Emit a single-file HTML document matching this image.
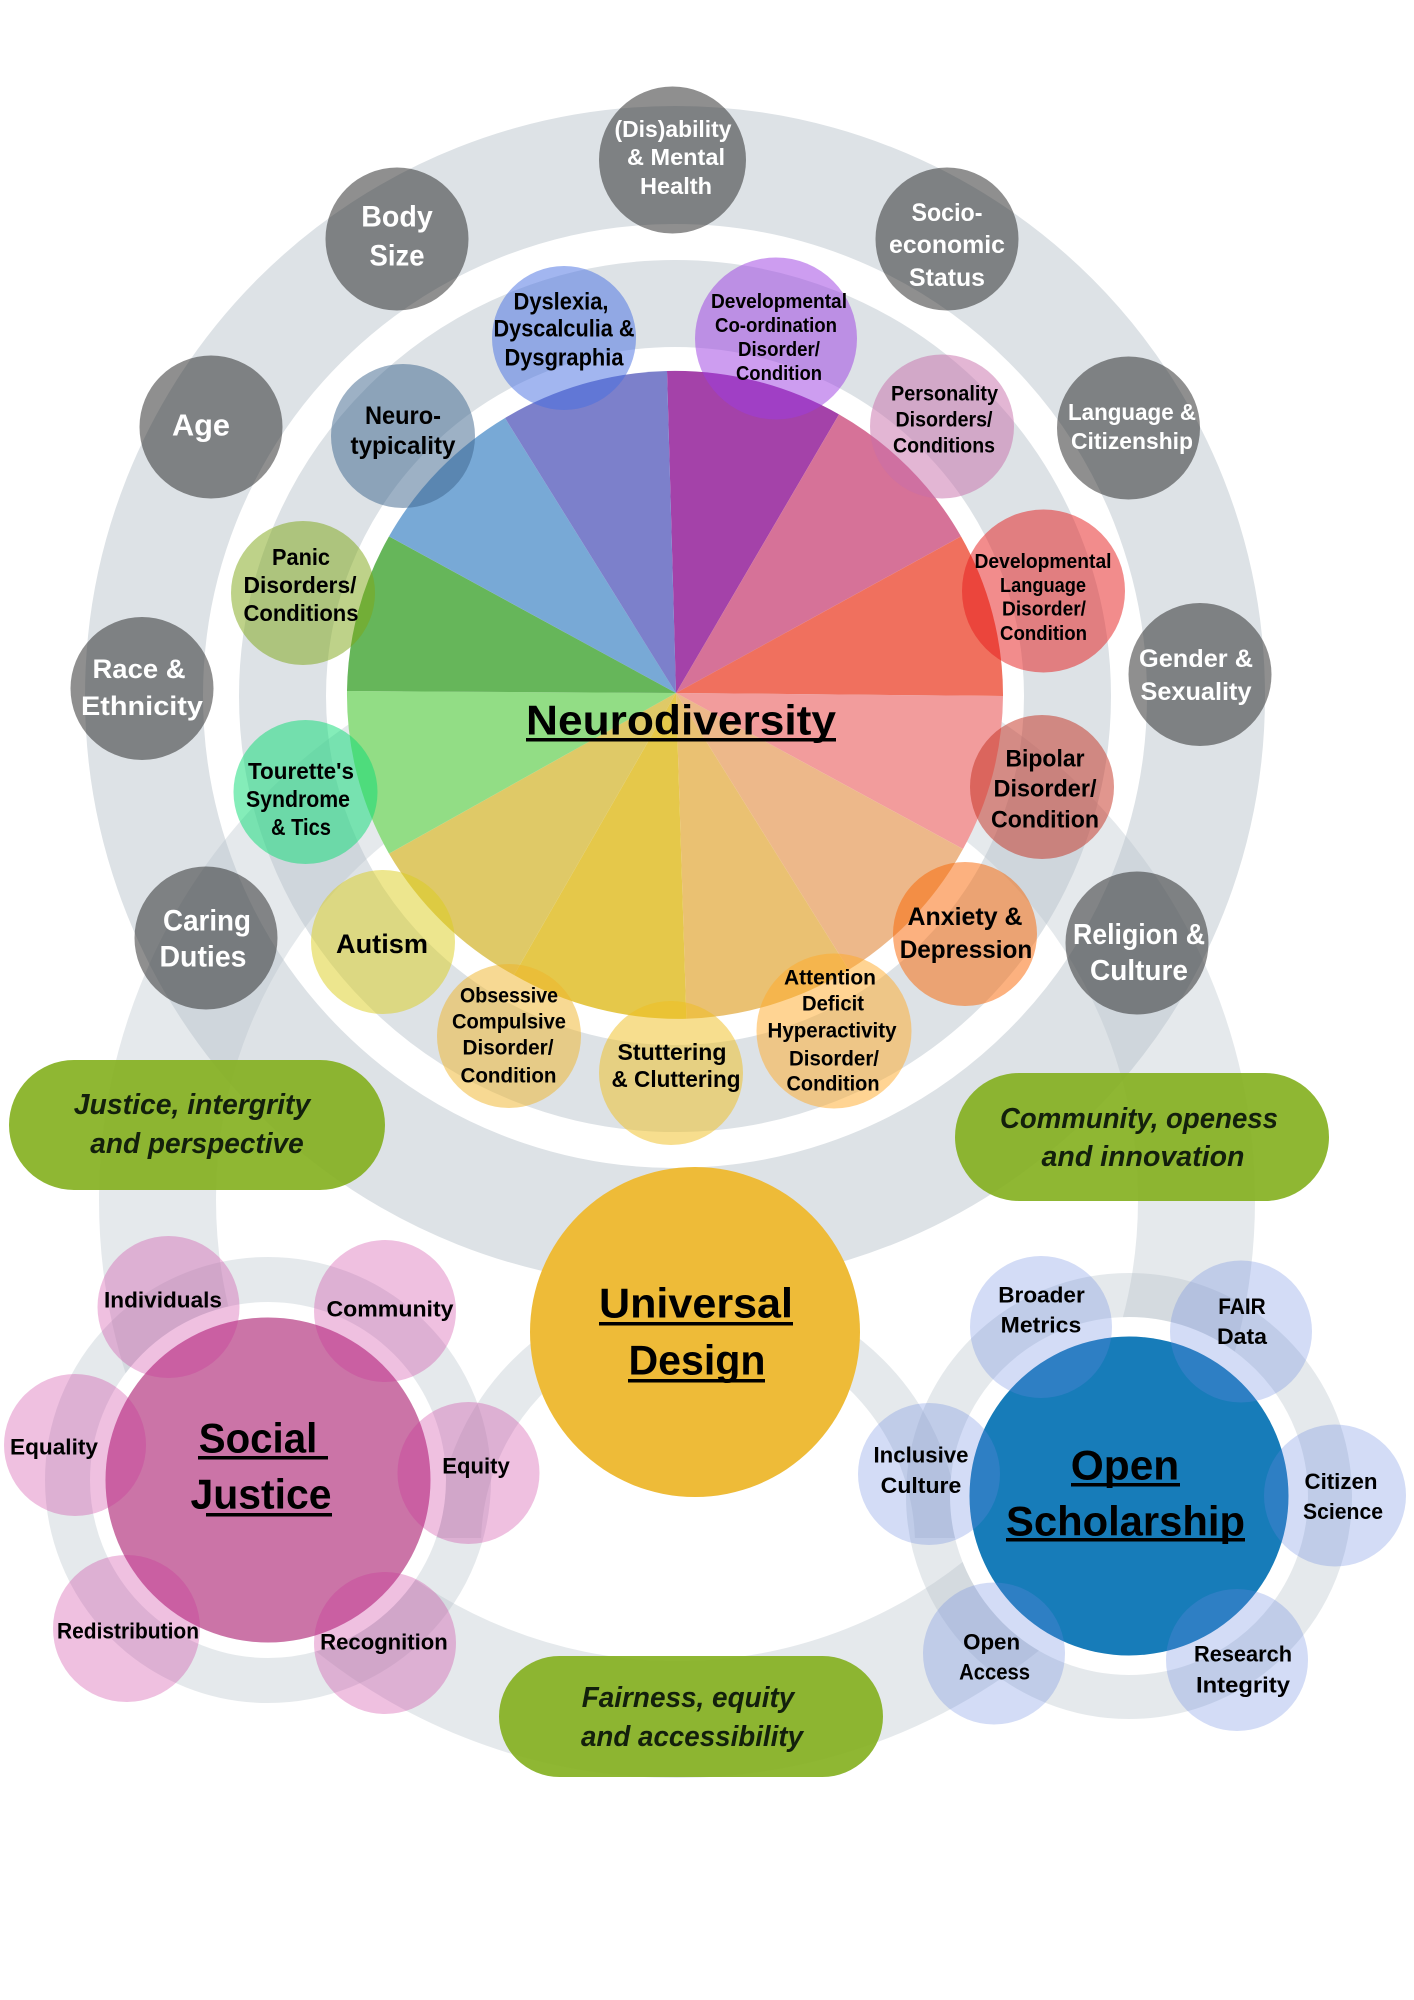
<!DOCTYPE html>
<html><head><meta charset="utf-8"><style>
html,body{margin:0;padding:0;background:#fff;width:1414px;height:2000px;overflow:hidden}
svg{display:block}
text{font-family:"Liberation Sans",sans-serif;font-weight:700;text-anchor:middle;dominant-baseline:central;fill:#000}
.w text{fill:#fff}
.p text{font-style:italic;fill:#13200c;font-size:29px}
</style></head><body>
<svg xmlns="http://www.w3.org/2000/svg" width="1414" height="2000" viewBox="0 0 1414 2000">
<defs><clipPath id="hc"><rect x="0" y="0" width="1414" height="1538"/></clipPath></defs>
<rect width="1414" height="2000" fill="#fff"/>
<!-- neuro rings -->
<circle cx="675" cy="696" r="531" fill="none" stroke="#dde2e6" stroke-width="118"/>
<circle cx="675" cy="696" r="392.5" fill="none" stroke="#dde2e6" stroke-width="87"/>
<!-- big connecting ring -->
<circle cx="677" cy="1200" r="519.5" fill="none" stroke="rgba(180,191,200,.35)" stroke-width="117"/>
<!-- UD half ring -->
<g clip-path="url(#hc)"><circle cx="698" cy="1545" r="239.5" fill="none" stroke="rgba(180,191,200,.35)" stroke-width="45"/></g>
<!-- SJ / OS rings -->
<circle cx="268" cy="1480" r="178" fill="#fff"/>
<circle cx="268" cy="1480" r="200.5" fill="none" stroke="rgba(180,191,200,.35)" stroke-width="45"/>
<circle cx="1129" cy="1496" r="179" fill="#fff"/>
<circle cx="1129" cy="1496" r="201" fill="none" stroke="rgba(180,191,200,.35)" stroke-width="44"/>
<!-- wheel -->
<g>
<path d="M676 693 L667 371 A328 324 0 0 1 839 414.4 Z" fill="#a442a9"/>
<path d="M676 693 L839 414.4 A328 324 0 0 1 961 536.4 Z" fill="#d67298"/>
<path d="M676 693 L961 536.4 A328 324 0 0 1 1003 696 Z" fill="#f0705e"/>
<path d="M676 693 L1003 696 A328 324 0 0 1 963 849 Z" fill="#f29c9c"/>
<path d="M676 693 L963 849 A328 324 0 0 1 848.8 969.8 Z" fill="#edb88a"/>
<path d="M676 693 L848.8 969.8 A328 324 0 0 1 686.4 1018.8 Z" fill="#eac172"/>
<path d="M676 693 L686.4 1018.8 A328 324 0 0 1 514 975 Z" fill="#e5c84a"/>
<path d="M676 693 L514 975 A328 324 0 0 1 389 853.6 Z" fill="#dfc967"/>
<path d="M676 693 L389 853.6 A328 324 0 0 1 347 691 Z" fill="#92dd85"/>
<path d="M676 693 L347 691 A328 324 0 0 1 389 536.4 Z" fill="#66b65a"/>
<path d="M676 693 L389 536.4 A328 324 0 0 1 505 418 Z" fill="#78a9d6"/>
<path d="M676 693 L505 418 A328 324 0 0 1 667 371 Z" fill="#7c80cb"/>
</g>
<!-- pills -->
<rect x="9" y="1060" width="376" height="130" rx="65" fill="rgba(131,175,29,.9)"/>
<rect x="955" y="1073" width="374" height="128" rx="64" fill="rgba(131,175,29,.9)"/>
<rect x="499" y="1656" width="384" height="121" rx="60.5" fill="rgba(131,175,29,.9)"/>
<!-- centres -->
<circle cx="695" cy="1332" r="165" fill="#eebb38"/>
<circle cx="268" cy="1480" r="162.5" fill="#cb74a7"/>
<circle cx="1129" cy="1496" r="159.5" fill="#177cb9"/>
<!-- grey bubbles -->
<g fill="rgba(31,31,31,.5)">
<circle cx="672.5" cy="160" r="73.5"/><circle cx="397" cy="239" r="71.5"/><circle cx="947" cy="239" r="71.5"/>
<circle cx="211" cy="427" r="71.5"/><circle cx="1128.5" cy="428" r="71.5"/><circle cx="142" cy="688.5" r="71.5"/>
<circle cx="1200" cy="674.5" r="71.5"/><circle cx="206" cy="938" r="71.5"/><circle cx="1137" cy="943" r="71.5"/>
</g>
<!-- neuro bubbles -->
<circle cx="403" cy="436" r="72" fill="rgba(60,100,140,.5)"/>
<circle cx="564" cy="338" r="72" fill="rgba(70,110,225,.5)"/>
<circle cx="776" cy="338.5" r="81" fill="rgba(155,60,225,.5)"/>
<circle cx="942" cy="426.5" r="72" fill="rgba(200,110,170,.5)"/>
<circle cx="1043.5" cy="591" r="81.5" fill="rgba(230,25,25,.5)"/>
<circle cx="1042" cy="787" r="72" fill="rgba(195,45,30,.5)"/>
<circle cx="965" cy="934" r="72" fill="rgba(250,100,0,.5)"/>
<circle cx="834" cy="1031" r="77.5" fill="rgba(255,170,40,.5)"/>
<circle cx="671" cy="1073" r="72" fill="rgba(240,190,30,.5)"/>
<circle cx="509" cy="1036" r="72" fill="rgba(240,180,40,.5)"/>
<circle cx="383" cy="942" r="72" fill="rgba(220,205,30,.5)"/>
<circle cx="305.5" cy="792" r="72" fill="rgba(10,220,115,.5)"/>
<circle cx="303" cy="593" r="72" fill="rgba(125,165,20,.5)"/>
<!-- SJ bubbles -->
<g fill="rgba(201,45,152,.3)">
<circle cx="168.5" cy="1307" r="71"/><circle cx="385" cy="1311" r="71"/><circle cx="75" cy="1445" r="71"/>
<circle cx="468.5" cy="1473" r="71"/><circle cx="126.5" cy="1628.5" r="73.5"/><circle cx="385" cy="1643" r="71"/>
</g>
<!-- OS bubbles -->
<g fill="rgba(103,134,224,.29)">
<circle cx="1041" cy="1327" r="71"/><circle cx="1241" cy="1331.5" r="71"/><circle cx="1335" cy="1495.5" r="71"/>
<circle cx="1237" cy="1660" r="71"/><circle cx="994" cy="1653.5" r="71"/><circle cx="929" cy="1474" r="71"/>
</g>
<!-- grey text -->
<g class="w" style="font-size:23px">
<text x="673" y="129" textLength="117" lengthAdjust="spacingAndGlyphs">(Dis)ability</text>
<text x="676" y="157" textLength="98" lengthAdjust="spacingAndGlyphs">&amp; Mental</text>
<text x="676" y="186" textLength="72" lengthAdjust="spacingAndGlyphs">Health</text>
<text x="397" y="217" font-size="30" textLength="71.5" lengthAdjust="spacingAndGlyphs">Body</text>
<text x="397" y="256" font-size="30" textLength="55" lengthAdjust="spacingAndGlyphs">Size</text>
<text x="947" y="213" font-size="25" textLength="71" lengthAdjust="spacingAndGlyphs">Socio-</text>
<text x="947" y="245" font-size="25" textLength="116" lengthAdjust="spacingAndGlyphs">economic</text>
<text x="947" y="278" font-size="25" textLength="76" lengthAdjust="spacingAndGlyphs">Status</text>
<text x="201" y="425" font-size="31" textLength="58" lengthAdjust="spacingAndGlyphs">Age</text>
<text x="1132" y="412" textLength="128" lengthAdjust="spacingAndGlyphs">Language &amp;</text>
<text x="1132" y="441" textLength="122" lengthAdjust="spacingAndGlyphs">Citizenship</text>
<text x="139" y="669" font-size="27" textLength="93" lengthAdjust="spacingAndGlyphs">Race &amp;</text>
<text x="142" y="706" font-size="27" textLength="122" lengthAdjust="spacingAndGlyphs">Ethnicity</text>
<text x="1196" y="659" font-size="25" textLength="114" lengthAdjust="spacingAndGlyphs">Gender &amp;</text>
<text x="1196" y="692" font-size="25" textLength="111" lengthAdjust="spacingAndGlyphs">Sexuality</text>
<text x="207" y="921" font-size="30" textLength="88" lengthAdjust="spacingAndGlyphs">Caring</text>
<text x="203" y="957" font-size="30" textLength="87" lengthAdjust="spacingAndGlyphs">Duties</text>
<text x="1139" y="935" font-size="29" textLength="132" lengthAdjust="spacingAndGlyphs">Religion &amp;</text>
<text x="1139" y="971" font-size="29" textLength="98" lengthAdjust="spacingAndGlyphs">Culture</text>
</g>
<!-- neuro text -->
<g style="font-size:21px">
<text x="403" y="416" font-size="25" textLength="76" lengthAdjust="spacingAndGlyphs">Neuro-</text>
<text x="403" y="446" font-size="25" textLength="105" lengthAdjust="spacingAndGlyphs">typicality</text>
<text x="561" y="302" font-size="24" textLength="95" lengthAdjust="spacingAndGlyphs">Dyslexia,</text>
<text x="564" y="329" font-size="24" textLength="141" lengthAdjust="spacingAndGlyphs">Dyscalculia &amp;</text>
<text x="564" y="358" font-size="24" textLength="119" lengthAdjust="spacingAndGlyphs">Dysgraphia</text>
<text x="779" y="302" font-size="20" textLength="136" lengthAdjust="spacingAndGlyphs">Developmental</text>
<text x="776" y="326" font-size="20" textLength="122" lengthAdjust="spacingAndGlyphs">Co-ordination</text>
<text x="779" y="350" font-size="20" textLength="82" lengthAdjust="spacingAndGlyphs">Disorder/</text>
<text x="779" y="374" font-size="20" textLength="86" lengthAdjust="spacingAndGlyphs">Condition</text>
<text x="944.5" y="394" textLength="107" lengthAdjust="spacingAndGlyphs">Personality</text>
<text x="944" y="420" textLength="97" lengthAdjust="spacingAndGlyphs">Disorders/</text>
<text x="944" y="446" textLength="102" lengthAdjust="spacingAndGlyphs">Conditions</text>
<text x="1043" y="562" font-size="20" textLength="137" lengthAdjust="spacingAndGlyphs">Developmental</text>
<text x="1043" y="586" font-size="20" textLength="86" lengthAdjust="spacingAndGlyphs">Language</text>
<text x="1044" y="609.5" font-size="20" textLength="84" lengthAdjust="spacingAndGlyphs">Disorder/</text>
<text x="1043.5" y="634" font-size="20" textLength="87" lengthAdjust="spacingAndGlyphs">Condition</text>
<text x="1045" y="759" font-size="24" textLength="79" lengthAdjust="spacingAndGlyphs">Bipolar</text>
<text x="1045" y="789" font-size="24" textLength="103" lengthAdjust="spacingAndGlyphs">Disorder/</text>
<text x="1045" y="820" font-size="24" textLength="108" lengthAdjust="spacingAndGlyphs">Condition</text>
<text x="965" y="917" font-size="25" textLength="115" lengthAdjust="spacingAndGlyphs">Anxiety &amp;</text>
<text x="966" y="950" font-size="25" textLength="132.6" lengthAdjust="spacingAndGlyphs">Depression</text>
<text x="830" y="978" textLength="92" lengthAdjust="spacingAndGlyphs">Attention</text>
<text x="833" y="1004" textLength="62" lengthAdjust="spacingAndGlyphs">Deficit</text>
<text x="832" y="1031" textLength="129" lengthAdjust="spacingAndGlyphs">Hyperactivity</text>
<text x="834" y="1059" textLength="90" lengthAdjust="spacingAndGlyphs">Disorder/</text>
<text x="833" y="1084" textLength="93" lengthAdjust="spacingAndGlyphs">Condition</text>
<text x="672" y="1052" font-size="23" textLength="109" lengthAdjust="spacingAndGlyphs">Stuttering</text>
<text x="676" y="1079" font-size="23" textLength="129" lengthAdjust="spacingAndGlyphs">&amp; Cluttering</text>
<text x="509" y="996" textLength="98" lengthAdjust="spacingAndGlyphs">Obsessive</text>
<text x="509" y="1022" textLength="114" lengthAdjust="spacingAndGlyphs">Compulsive</text>
<text x="508" y="1048" textLength="91" lengthAdjust="spacingAndGlyphs">Disorder/</text>
<text x="508.5" y="1076" textLength="96" lengthAdjust="spacingAndGlyphs">Condition</text>
<text x="382" y="944" font-size="27" textLength="92" lengthAdjust="spacingAndGlyphs">Autism</text>
<text x="301" y="771" font-size="23" textLength="106" lengthAdjust="spacingAndGlyphs">Tourette's</text>
<text x="298" y="799" font-size="23" textLength="104" lengthAdjust="spacingAndGlyphs">Syndrome</text>
<text x="301" y="827" font-size="23" textLength="60" lengthAdjust="spacingAndGlyphs">&amp; Tics</text>
<text x="301" y="557" font-size="23" textLength="58" lengthAdjust="spacingAndGlyphs">Panic</text>
<text x="300" y="585" font-size="23" textLength="113" lengthAdjust="spacingAndGlyphs">Disorders/</text>
<text x="301" y="613" font-size="23" textLength="115" lengthAdjust="spacingAndGlyphs">Conditions</text>
</g>
<!-- SJ / OS small text -->
<g style="font-size:22px">
<text x="163" y="1300" textLength="118" lengthAdjust="spacingAndGlyphs">Individuals</text>
<text x="390" y="1309" textLength="127" lengthAdjust="spacingAndGlyphs">Community</text>
<text x="54" y="1447" textLength="88" lengthAdjust="spacingAndGlyphs">Equality</text>
<text x="476" y="1466" textLength="67.5" lengthAdjust="spacingAndGlyphs">Equity</text>
<text x="128" y="1631" textLength="142" lengthAdjust="spacingAndGlyphs">Redistribution</text>
<text x="384" y="1642" textLength="127.6" lengthAdjust="spacingAndGlyphs">Recognition</text>
<text x="1041.5" y="1295" textLength="86.5" lengthAdjust="spacingAndGlyphs">Broader</text>
<text x="1041" y="1325" textLength="80.6" lengthAdjust="spacingAndGlyphs">Metrics</text>
<text x="1242" y="1306.5" textLength="47.4" lengthAdjust="spacingAndGlyphs">FAIR</text>
<text x="1242" y="1336.6" textLength="50" lengthAdjust="spacingAndGlyphs">Data</text>
<text x="1341" y="1481.6" textLength="73" lengthAdjust="spacingAndGlyphs">Citizen</text>
<text x="1343" y="1511.7" textLength="80" lengthAdjust="spacingAndGlyphs">Science</text>
<text x="1243" y="1654" textLength="98" lengthAdjust="spacingAndGlyphs">Research</text>
<text x="1243" y="1685" textLength="94" lengthAdjust="spacingAndGlyphs">Integrity</text>
<text x="991.6" y="1642" textLength="57" lengthAdjust="spacingAndGlyphs">Open</text>
<text x="994.6" y="1672" textLength="71" lengthAdjust="spacingAndGlyphs">Access</text>
<text x="921" y="1455" textLength="95" lengthAdjust="spacingAndGlyphs">Inclusive</text>
<text x="921" y="1485.4" textLength="80.6" lengthAdjust="spacingAndGlyphs">Culture</text>
</g>
<!-- pill text -->
<g class="p">
<text x="192" y="1105" textLength="236.5" lengthAdjust="spacingAndGlyphs">Justice, intergrity</text>
<text x="197" y="1144" textLength="213.5" lengthAdjust="spacingAndGlyphs">and perspective</text>
<text x="1139" y="1119" textLength="278" lengthAdjust="spacingAndGlyphs">Community, openess</text>
<text x="1143" y="1157" textLength="203" lengthAdjust="spacingAndGlyphs">and innovation</text>
<text x="688" y="1698" textLength="212.6" lengthAdjust="spacingAndGlyphs">Fairness, equity</text>
<text x="692" y="1737" textLength="222" lengthAdjust="spacingAndGlyphs">and accessibility</text>
</g>
<!-- titles -->
<g style="font-size:42px">
<text x="681" y="720" textLength="310" lengthAdjust="spacingAndGlyphs">Neurodiversity</text>
<rect x="526" y="738" width="310" height="3.5"/>
<text x="696" y="1303" textLength="194" lengthAdjust="spacingAndGlyphs">Universal</text>
<rect x="599" y="1322" width="194" height="3.5"/>
<text x="697" y="1360" textLength="137" lengthAdjust="spacingAndGlyphs">Design</text>
<rect x="628" y="1379" width="137" height="3.5"/>
<text x="258" y="1438" textLength="118.5" lengthAdjust="spacingAndGlyphs">Social</text>
<rect x="198" y="1456" width="130" height="3.5"/>
<text x="261" y="1494" textLength="141" lengthAdjust="spacingAndGlyphs">Justice</text>
<rect x="206" y="1513" width="126" height="3.5"/>
<text x="1125" y="1465" textLength="108.5" lengthAdjust="spacingAndGlyphs">Open</text>
<rect x="1071" y="1483" width="109" height="3.5"/>
<text x="1125.5" y="1521" textLength="239" lengthAdjust="spacingAndGlyphs">Scholarship</text>
<rect x="1006" y="1538" width="239" height="3.5"/>
</g>
</svg>
</body></html>
